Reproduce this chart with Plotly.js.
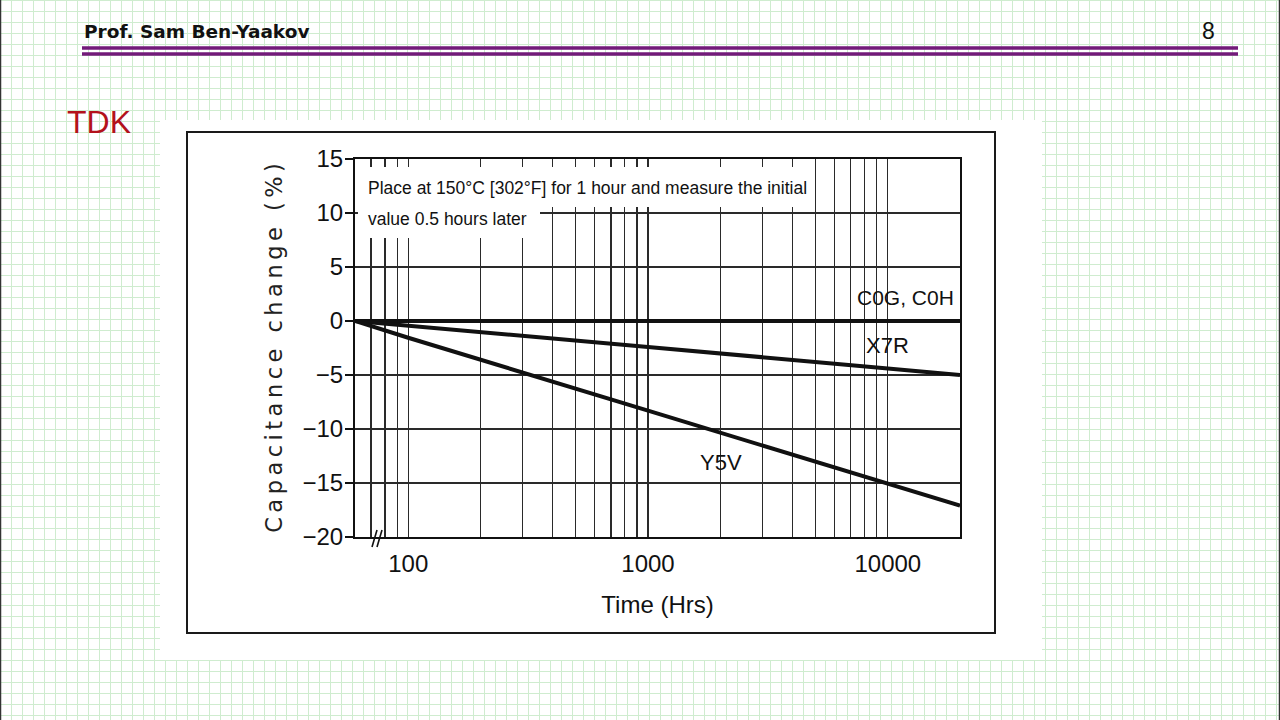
<!DOCTYPE html>
<html>
<head>
<meta charset="utf-8">
<script src="https://cdn.plot.ly/plotly-3.0.1.min.js"></script>
<style>
html,body{margin:0;padding:0;width:1280px;height:720px;overflow:hidden;}
body{
  background-color:#ffffff;
  background-image:
    linear-gradient(to right, #cfeccf 1px, transparent 1px),
    linear-gradient(to bottom, #cfeccf 1px, transparent 1px);
  background-size:11px 11px;
}
#chart{width:1280px;height:720px;}
</style>
</head>
<body>
<div id="chart"></div>
<script>
// ---- data ----
const timeHrs = [60, 100, 1000, 10000, 20000];
const c0g = [0, 0, 0, 0, 0];
const x7r = [0, -0.45, -2.4, -4.4, -5.0];
const y5v = [0, -1.55, -8.3, -15.0, -17.1];

const xGridVals = [60, 70, 80, 90, 100, 200, 300, 400, 500, 600, 700, 800, 900,
                   1000, 2000, 3000, 4000, 5000, 6000, 7000, 8000, 9000, 10000, 20000];
const xLabeled = [100, 1000, 10000];
const yTickVals = [-20, -15, -10, -5, 0, 5, 10, 15];

const seriesNames = ['C0G, C0H', 'X7R', 'Y5V'];
const yTitle = 'Capacitance change (%)';
const xTitle = 'Time (Hrs)';
const noteLine1 = 'Place at 150\u00B0C [302\u00B0F] for 1 hour and measure the initial';
const noteLine2 = 'value 0.5 hours later';

// ---- layout helpers (pixel -> paper) ----
const W = 1280, H = 720;
const M = {l: 355, r: 320, t: 159, b: 183};
const PW = W - M.l - M.r, PH = H - M.t - M.b;
const px = x => (x - M.l) / PW;
const py = y => 1 - (y - M.t) / PH;

const sans = '"Liberation Sans", Arial, sans-serif';
const lineColor = '#111111';
// letter-spaced title (thin spaces between glyphs, no-break space between words)
const spaced = s => s.split(' ').map(w => w.split('').join('\u2009')).join('\u2009\u00A0\u2009');

const traces = [
  {x: timeHrs, y: c0g, name: seriesNames[0]},
  {x: timeHrs, y: x7r, name: seriesNames[1]},
  {x: timeHrs, y: y5v, name: seriesNames[2]}
].map(t => Object.assign(t, {type: 'scatter', mode: 'lines', line: {color: lineColor, width: 4}, hoverinfo: 'skip'}));

const rectPx = (x0, y0, x1, y1, extra) => Object.assign({
  type: 'rect', xref: 'paper', yref: 'paper',
  x0: px(x0), x1: px(x1), y0: py(y1), y1: py(y0)
}, extra);
const linePx = (x0, y0, x1, y1, color, width) => ({
  type: 'line', xref: 'paper', yref: 'paper',
  x0: px(x0), x1: px(x1), y0: py(y0), y1: py(y1),
  line: {color: color, width: width}
});

const shapes = [
  rectPx(160, 120, 1042, 660, {layer: 'below', fillcolor: '#ffffff', line: {width: 0}}),
  rectPx(187, 132, 995, 633, {layer: 'below', fillcolor: '#ffffff', line: {color: '#1a1a1a', width: 2}}),
  rectPx(358, 167, 812, 207, {layer: 'above', fillcolor: '#ffffff', line: {width: 0}}),
  rectPx(358, 206, 540, 238, {layer: 'above', fillcolor: '#ffffff', line: {width: 0}}),
  linePx(82, 48, 1238, 48, '#731a7a', 3.5),
  linePx(82, 54, 1238, 54, '#731a7a', 3.5),
  linePx(0.5, 0, 0.5, 720, '#333333', 1.5),
  linePx(1279.5, 0, 1279.5, 720, '#333333', 1.5),
  linePx(372, 547, 377, 530, lineColor, 1.6),
  linePx(377, 547, 382, 530, lineColor, 1.6)
];

const annotations = [
  {text: '<b>Prof. Sam Ben-Yaakov</b>', x: px(82), y: py(31), xanchor: 'left', yanchor: 'middle',
   font: {family: '"DejaVu Sans", Arial, sans-serif', size: 18.5, color: '#111'}},
  {text: '8', x: px(1208), y: py(31), xanchor: 'center', yanchor: 'middle',
   font: {family: sans, size: 23, color: '#111'}},
  {text: 'TDK', x: px(65), y: py(122), xanchor: 'left', yanchor: 'middle',
   font: {family: sans, size: 32, color: '#b3121b'}},
  {text: noteLine1, x: px(366), y: py(188), xanchor: 'left', yanchor: 'middle',
   font: {family: sans, size: 17.5, color: '#111'}},
  {text: noteLine2, x: px(366), y: py(219), xanchor: 'left', yanchor: 'middle',
   font: {family: sans, size: 17.5, color: '#111'}},
  {text: seriesNames[0], x: px(905), y: py(297), xanchor: 'center', yanchor: 'middle',
   font: {family: sans, size: 21, color: '#111'}},
  {text: seriesNames[1], x: px(887), y: py(345), xanchor: 'center', yanchor: 'middle',
   font: {family: sans, size: 22, color: '#111'}},
  {text: seriesNames[2], x: px(721), y: py(462), xanchor: 'center', yanchor: 'middle',
   font: {family: sans, size: 22, color: '#111'}}
].map(a => Object.assign({xref: 'paper', yref: 'paper', showarrow: false}, a));

const layout = {
  width: W, height: H,
  margin: M,
  paper_bgcolor: 'rgba(0,0,0,0)',
  plot_bgcolor: '#ffffff',
  showlegend: false,
  xaxis: {
    type: 'log',
    range: [Math.log10(60), Math.log10(20000)],
    tickmode: 'array',
    tickvals: xGridVals,
    ticktext: xGridVals.map(v => xLabeled.includes(v) ? String(v) : ''),
    ticks: '', showgrid: true, gridcolor: '#2a2a2a', gridwidth: 1.3,
    showline: true, linecolor: '#111', linewidth: 2, mirror: true,
    zeroline: false,
    ticklabelstandoff: 4,
    tickfont: {family: sans, size: 24, color: '#111'},
    title: {text: xTitle, font: {family: sans, size: 24, color: '#111'}, standoff: 20}
  },
  yaxis: {
    range: [-20, 15],
    tickmode: 'array',
    tickvals: yTickVals,
    ticks: 'outside', ticklen: 8, tickwidth: 1.5, tickcolor: '#111',
    showgrid: true, gridcolor: '#2a2a2a', gridwidth: 1.3,
    showline: true, linecolor: '#111', linewidth: 2, mirror: true,
    zeroline: false,
    ticklabelstandoff: -3,
    tickfont: {family: sans, size: 24, color: '#111'},
    title: {text: spaced(yTitle), font: {family: '"DejaVu Sans", Arial, sans-serif', size: 22.5, color: '#222'}, standoff: 14}
  },
  shapes: shapes,
  annotations: annotations
};

Plotly.newPlot('chart', traces, layout, {staticPlot: true, displayModeBar: false});
</script>
</body>
</html>
